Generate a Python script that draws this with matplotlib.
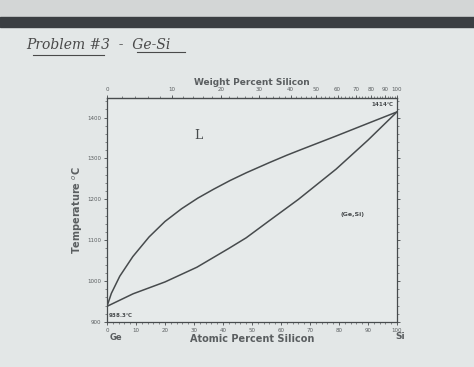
import matplotlib.pyplot as plt
from matplotlib.patches import Rectangle
from matplotlib.ticker import MultipleLocator, FixedLocator

# liquidus and solidus (atomic percent Si, temperature in C)
liq_at = [0, 1.5, 4.4, 8.9, 14.5, 20, 25.7, 31.3, 36.8, 42.4, 48, 56, 62, 67, 79, 90, 100]
liq_T = [938.3, 970, 1012, 1060, 1108, 1146, 1177, 1203, 1225, 1246, 1265, 1290, 1308, 1322, 1355, 1386, 1414]
sol_at = [0, 9, 20, 31, 42, 48, 56, 66, 79, 90, 100]
sol_T = [938.3, 969, 998, 1034, 1080, 1106, 1148, 1200, 1274, 1345, 1414]

at_ticks = [0, 10, 20, 30, 40, 50, 60, 70, 80, 90, 100]
wt_ticks = [0, 10, 20, 30, 40, 50, 60, 70, 80, 90, 100]
T_ticks = [900, 1000, 1100, 1200, 1300, 1400]

M_SI, M_GE = 28.086, 72.63


def wt_to_at(w):
    return (w / M_SI) / (w / M_SI + (100 - w) / M_GE) * 100


def at_to_wt(a):
    return a * M_SI / (a * M_SI + (100 - a) * M_GE) * 100


ink = "#474b4d"
txt = "#5a5e60"

fig = plt.figure(figsize=(4.74, 3.67), dpi=100)
fig.patch.set_facecolor("#e3e7e7")
fig.add_artist(Rectangle((0, 1 - 17 / 367), 1, 17 / 367, transform=fig.transFigure, color="#d3d6d6", zorder=0))
fig.add_artist(Rectangle((0, 1 - 27 / 367), 1, 10 / 367, transform=fig.transFigure, color="#3a3e42", zorder=0))

# handwritten header
fig.text(0.055, 1 - 45 / 367, "Problem #3  -  Ge-Si", fontsize=10, style="italic",
         color="#4a4a4a", va="center", family="DejaVu Serif")
fig.add_artist(plt.Line2D([0.07, 0.22], [1 - 55 / 367, 1 - 55 / 367], color="#4a4a4a", lw=0.8))
fig.add_artist(plt.Line2D([0.29, 0.39], [1 - 52 / 367, 1 - 52 / 367], color="#4a4a4a", lw=0.8))

ax = fig.add_axes([107 / 474, 1 - 322 / 367, 290 / 474, 224 / 367])
ax.set_facecolor("#e6eaea")
ax.plot(liq_at, liq_T, color=ink, lw=1.1)
ax.plot(sol_at, sol_T, color=ink, lw=1.1)
ax.set_xlim(0, 100)
ax.set_ylim(900, 1448)

ax.set_xticks(at_ticks)
ax.xaxis.set_minor_locator(MultipleLocator(2))
ax.set_yticks(T_ticks)
ax.yaxis.set_minor_locator(MultipleLocator(20))
ax.tick_params(labelsize=4, colors=txt, length=2.5, width=0.7, pad=1.5)
ax.tick_params(which="minor", length=1.2, width=0.5, colors=txt)
ax.tick_params(axis="y", which="both", right=True)
for s in ax.spines.values():
    s.set_color(ink)
    s.set_linewidth(0.9)

top = ax.secondary_xaxis("top", functions=(at_to_wt, wt_to_at))
top.set_xticks(wt_ticks)
top.xaxis.set_minor_locator(FixedLocator(range(0, 101, 2)))
top.tick_params(labelsize=4, colors=txt, length=2.5, width=0.7, pad=1.5)
top.tick_params(which="minor", length=1.2, width=0.5, colors=txt)
top.set_xlabel("Weight Percent Silicon", fontsize=6.5, fontweight="bold", color=txt, labelpad=2)

ax.set_xlabel("Atomic Percent Silicon", fontsize=7, fontweight="bold", color=txt, labelpad=1)
ax.set_ylabel("Temperature $^o$C", fontsize=7, fontweight="bold", color=txt, labelpad=2)

ax.text(30, 1356, "L", fontsize=9, color=ink, family="DejaVu Serif", va="center")
ax.text(84.5, 1163, "(Ge,Si)", fontsize=4.5, color=ink, fontweight="bold", ha="center", va="center")
ax.text(0.5, 925, "938.3$^o$C", fontsize=4, color=ink, fontweight="bold", va="top")
ax.text(99, 1420, "1414$^o$C", fontsize=4, color=ink, fontweight="bold", ha="right", va="bottom")
ax.text(1, 855, "Ge", fontsize=6, color=txt, fontweight="bold", clip_on=False)
ax.text(101, 876, "Si", fontsize=6.5, color=txt, fontweight="bold", ha="center", va="top", clip_on=False)

fig.savefig("out.png", dpi=100, facecolor=fig.get_facecolor())
